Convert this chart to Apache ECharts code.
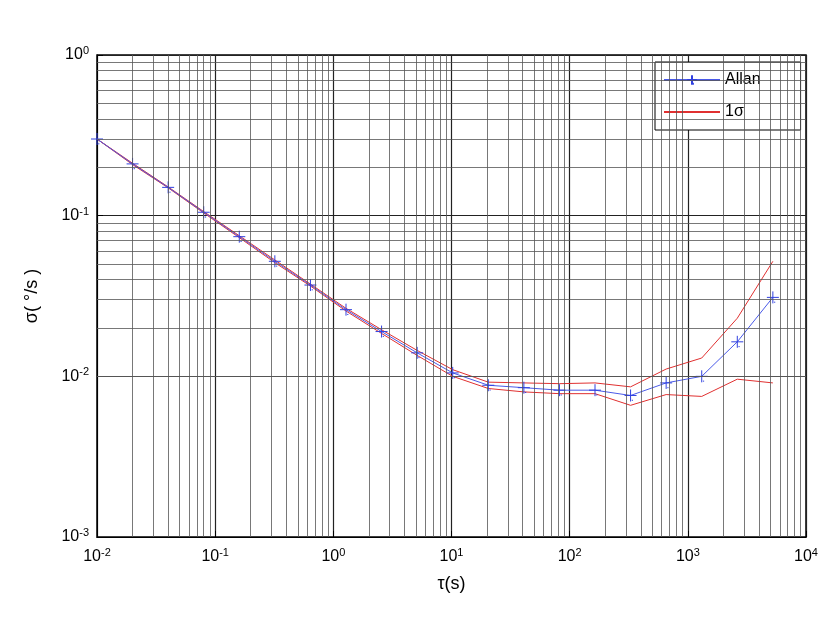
<html>
<head><meta charset="utf-8"></head>
<body style="margin:0;background:#fff">
<div id="main" style="width:840px;height:636px;"></div>
<script src="https://cdn.jsdelivr.net/npm/echarts@6/dist/echarts.min.js"></script>
<script>
  let taus = [0.01, 0.02, 0.04, 0.08, 0.16, 0.32, 0.64, 1.28, 2.56, 5.12, 10.24, 20.48, 40.96, 81.92, 163.84, 327.68, 655.36, 1310.72, 2621.44, 5242.88];
  let allan = [0.30, 0.21, 0.15, 0.105, 0.074, 0.052, 0.037, 0.026, 0.019, 0.014, 0.0105, 0.0088, 0.0085, 0.0082, 0.0082, 0.0076, 0.0091, 0.0100, 0.0164, 0.031];
  let upper = [0.30, 0.212, 0.151, 0.106, 0.075, 0.053, 0.0375, 0.0265, 0.0195, 0.0145, 0.011, 0.0092, 0.0091, 0.0090, 0.0091, 0.0086, 0.0111, 0.013, 0.023, 0.052];
  let lower = [0.30, 0.208, 0.149, 0.104, 0.073, 0.051, 0.0365, 0.0255, 0.0185, 0.0135, 0.0100, 0.0084, 0.0080, 0.0078, 0.0078, 0.0066, 0.0077, 0.0075, 0.0096, 0.0091];
  let xDecades = [-2, -1, 0, 1, 2, 3];
  let yDecades = [-3, -2, -1];

  let xMinor = [], yMinor = [];
  xDecades.forEach(d => { for (let m = 2; m <= 9; m++) xMinor.push(m * Math.pow(10, d)); });
  yDecades.forEach(d => { for (let m = 2; m <= 9; m++) yMinor.push(m * Math.pow(10, d)); });

  function pow10(v) {
    let e = Math.round(Math.log10(v));
    return '10{s|' + e + '}';
  }
  let plus = 'path://M0,5L10,5M5,0L5,10M6,9L7,9';
  let font = 'Liberation Sans';

  var myChart = echarts.init(document.getElementById('main'));
  let option = {
    animation: false,
    grid: { left: 97, right: 34, top: 55, bottom: 99, show: true, borderColor: '#000', borderWidth: 1.5 },
    legend: {
      show: true, left: 655, top: 62, orient: 'vertical', backgroundColor: '#fff', borderColor: '#000', borderWidth: 1,
      padding: [10, 40, 10, 8], itemWidth: 56, itemHeight: 12, itemGap: 16,
      textStyle: { fontFamily: font, fontSize: 16, color: '#000' },
      data: ['Allan', { name: '1σ', itemStyle: { opacity: 0 } }]
    },
    xAxis: {
      type: 'log', min: 0.01, max: 10000, logBase: 10,
      name: 'τ(s)', nameLocation: 'middle', nameGap: 38,
      nameTextStyle: { fontFamily: font, fontSize: 18, color: '#000' },
      axisLine: { lineStyle: { color: '#000' } },
      axisTick: { inside: true, length: 6, lineStyle: { color: '#000' } },
      splitLine: { show: true, lineStyle: { color: '#222', width: 1.2 } },
      axisLabel: { formatter: pow10, color: '#000', fontFamily: font, fontSize: 16, margin: 10,
        rich: { s: { fontSize: 11, verticalAlign: 'top', padding: [0, 0, 8, 0], color: '#000' } } }
    },
    yAxis: {
      type: 'log', min: 0.001, max: 1, logBase: 10,
      name: 'σ( °/s )', nameLocation: 'middle', nameGap: 56,
      nameTextStyle: { fontFamily: font, fontSize: 18, color: '#000' },
      axisLine: { lineStyle: { color: '#000' } },
      axisTick: { inside: true, length: 6, lineStyle: { color: '#000' } },
      splitLine: { show: true, lineStyle: { color: '#222', width: 1.2 } },
      axisLabel: { formatter: pow10, color: '#000', fontFamily: font, fontSize: 16,
        rich: { s: { fontSize: 11, verticalAlign: 'top', padding: [0, 0, 8, 0], color: '#000' } } }
    },
    series: [
      {
        type: 'line', name: 'grid', data: [], silent: true,
        markLine: {
          silent: true, symbol: 'none', label: { show: false },
          lineStyle: { color: '#555', width: 0.8, type: 'solid' },
          data: xMinor.map(v => ({ xAxis: v })).concat(yMinor.map(v => ({ yAxis: v })))
        }
      },
      {
        type: 'line', name: 'Allan', data: taus.map((t, i) => [t, allan[i]]),
        symbol: plus, symbolSize: 12, showAllSymbol: true,
        lineStyle: { color: '#4a5ae8', width: 1 }, itemStyle: { color: '#3040e0', borderColor: '#3040e0', borderWidth: 1 }, z: 4
      },
      {
        type: 'line', name: '1σ', data: taus.map((t, i) => [t, upper[i]]),
        symbol: 'none', lineStyle: { color: '#e03030', width: 1 }, itemStyle: { color: '#e03030' }, z: 3
      },
      {
        type: 'line', name: '1σ', data: taus.map((t, i) => [t, lower[i]]),
        symbol: 'none', lineStyle: { color: '#e03030', width: 1 }, itemStyle: { color: '#e03030' }, z: 3
      }
    ]
  };
  myChart.setOption(option);
</script>
</body>
</html>
